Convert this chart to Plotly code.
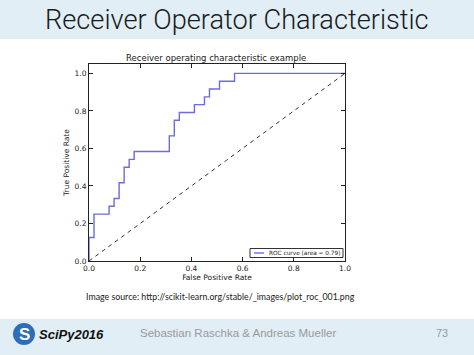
import plotly.graph_objects as go

# ROC curve staircase vertices
fpr = [0.0, 0.0, 0.0196, 0.0196, 0.0784, 0.0784, 0.0980, 0.0980, 0.1176, 0.1176,
       0.1373, 0.1373, 0.1569, 0.1569, 0.1765, 0.1765, 0.3137, 0.3137, 0.3333, 0.3333,
       0.3529, 0.3529, 0.4118, 0.4118, 0.4510, 0.4510, 0.4706, 0.4706, 0.5098, 0.5098,
       0.5686, 0.5686, 1.0]
tpr = [0.0, 0.125, 0.125, 0.25, 0.25, 0.2917, 0.2917, 0.3333, 0.3333, 0.4167,
       0.4167, 0.5, 0.5, 0.5417, 0.5417, 0.5833, 0.5833, 0.6667, 0.6667, 0.75,
       0.75, 0.7917, 0.7917, 0.8333, 0.8333, 0.875, 0.875, 0.9167, 0.9167, 0.9583,
       0.9583, 1.0, 1.0]
chance_x = [0.0, 1.0]
chance_y = [0.0, 1.0]
tick_vals = [0.0, 0.2, 0.4, 0.6, 0.8, 1.0]
tick_text = ["0.0", "0.2", "0.4", "0.6", "0.8", "1.0"]
roc_area = 0.79

W, H = 474, 355
ROC_COLOR = "#6b6be3"

def px(x):
    return x / W

def py(y):
    return (H - y) / H

fig = go.Figure()
fig.add_trace(go.Scatter(x=fpr, y=tpr, mode="lines",
                         line=dict(color=ROC_COLOR, width=1.4),
                         name="ROC curve (area = %0.2f)" % roc_area, showlegend=False))
fig.add_trace(go.Scatter(x=chance_x, y=chance_y, mode="lines",
                         line=dict(color="#333333", width=1, dash="4px,4px"),
                         showlegend=False, hoverinfo="skip"))

axis_common = dict(showgrid=False, zeroline=False, showline=True, linecolor="#222222",
                   linewidth=1, mirror="ticks", ticks="inside", ticklen=4,
                   tickcolor="#222222", tickvals=tick_vals, ticktext=tick_text,
                   automargin=False,
                   tickfont=dict(family="DejaVu Sans", size=7.5, color="#222222"))

fig.update_layout(
    width=W, height=H,
    margin=dict(l=0, r=0, t=0, b=0),
    paper_bgcolor="white", plot_bgcolor="white",
    xaxis=dict(domain=[px(89), px(345)], range=[0, 1],
               title=dict(text="False Positive Rate", standoff=2,
                          font=dict(family="DejaVu Sans", size=7.5, color="#222222")),
               **axis_common),
    yaxis=dict(domain=[py(261), py(64)], range=[0, 1.05],
               title=dict(text="True Positive Rate", standoff=3,
                          font=dict(family="DejaVu Sans", size=7.5, color="#222222")),
               **axis_common),
    showlegend=False,
)

shapes = [
    dict(type="rect", xref="paper", yref="paper", x0=0, x1=1, y0=py(39), y1=1,
         fillcolor="#e1eef6", line=dict(width=0), layer="below"),
    dict(type="rect", xref="paper", yref="paper", x0=0, x1=1, y0=0, y1=py(319),
         fillcolor="#e1eef6", line=dict(width=0), layer="below"),
    dict(type="circle", xref="paper", yref="paper", x0=px(13), x1=px(35),
         y0=py(345), y1=py(323), fillcolor="#2c6fb6", line=dict(width=0)),
    # legend box and line sample
    dict(type="rect", xref="paper", yref="paper", x0=px(250), x1=px(343),
         y0=py(257.5), y1=py(248.5), fillcolor="white",
         line=dict(color="#333333", width=1)),
    dict(type="line", xref="paper", yref="paper", x0=px(254), x1=px(264),
         y0=py(253), y1=py(253), line=dict(color=ROC_COLOR, width=1.4)),
]
fig.update_layout(shapes=shapes)

annotations = [
    dict(text="Receiver Operator Characteristic", x=px(237), y=py(20), xref="paper",
         yref="paper", showarrow=False, xanchor="center", yanchor="middle",
         font=dict(family="Roboto", size=27.2, color="#1a1a1a", weight=300)),
    dict(text="Receiver operating characteristic example", x=px(216), y=py(58),
         xref="paper", yref="paper", showarrow=False, xanchor="center", yanchor="middle",
         font=dict(family="DejaVu Sans", size=8.5, color="#222222")),
    dict(text="ROC curve (area = %0.2f)" % roc_area, x=px(267), y=py(253),
         xref="paper", yref="paper", showarrow=False, xanchor="left", yanchor="middle",
         font=dict(family="DejaVu Sans", size=5.8, color="#222222")),
    dict(text="Image source: http://scikit-learn.org/stable/_images/plot_roc_001.png",
         x=px(220), y=py(296), xref="paper", yref="paper", showarrow=False,
         xanchor="center", yanchor="middle",
         font=dict(family="Lato", size=8.8, color="#222222")),
    dict(text="Sebastian Raschka &amp; Andreas Mueller", x=px(238), y=py(333),
         xref="paper", yref="paper", showarrow=False, xanchor="center", yanchor="middle",
         font=dict(family="Liberation Sans", size=11.5, color="#9a9a9a")),
    dict(text="73", x=px(442), y=py(333), xref="paper", yref="paper", showarrow=False,
         xanchor="center", yanchor="middle",
         font=dict(family="Liberation Sans", size=11, color="#9a9a9a")),
    dict(text="<b><i>SciPy2016</i></b>", x=px(37), y=py(334), xref="paper", yref="paper",
         showarrow=False, xanchor="left", yanchor="middle",
         font=dict(family="Liberation Sans", size=13, color="#111111")),
    dict(text="<b>S</b>", x=px(24), y=py(334), xref="paper", yref="paper", showarrow=False,
         xanchor="center", yanchor="middle",
         font=dict(family="Liberation Sans", size=17, color="white")),
]
fig.update_layout(annotations=annotations)

fig.write_html("out.html", config={"displayModeBar": False},
               post_script="document.body.style.margin='0';document.body.style.overflow='hidden';")
